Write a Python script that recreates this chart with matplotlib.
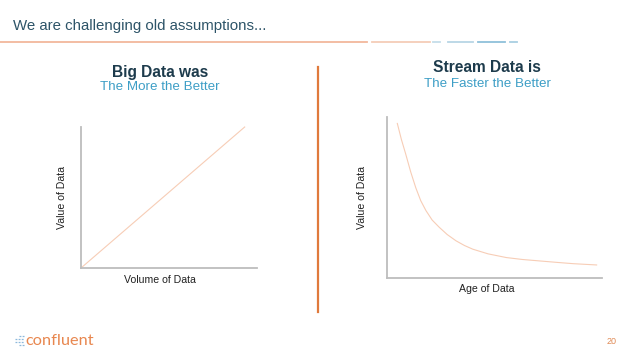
import numpy as np
import matplotlib.pyplot as plt
from matplotlib.lines import Line2D

plt.rcParams['font.family'] = ['Liberation Sans', 'DejaVu Sans']

# data (arbitrary units 0..10)
volume = [0.0, 9.3]
volume_value = [0.0, 10.0]

age = [0.48, 0.67, 0.87, 1.10, 1.34, 1.57, 1.81, 2.10, 2.43, 2.80, 3.21,
       3.60, 3.99, 4.70, 5.55, 6.30, 7.10, 7.90, 8.66, 9.20, 9.75]
age_value = [9.6, 8.6, 7.7, 6.6, 5.6, 4.8, 4.19, 3.6, 3.15, 2.7, 2.31,
             2.02, 1.79, 1.5, 1.27, 1.15, 1.06, 0.97, 0.89, 0.85, 0.81]

header = "We are challenging old assumptions..."
left_title, left_sub = "Big Data was", "The More the Better"
right_title, right_sub = "Stream Data is", "The Faster the Better"

W, H = 638, 359
fig = plt.figure(figsize=(W / 100, H / 100), dpi=100)
fig.patch.set_facecolor('white')

def fx(px):
    return px / W

def fy(py):
    return 1 - py / H

line_col = '#f7cdb6'
spine_col = '#bdbdbd'

def style_axes(ax):
    for s in ['top', 'right']:
        ax.spines[s].set_visible(False)
    for s in ['left', 'bottom']:
        ax.spines[s].set_color(spine_col)
        ax.spines[s].set_linewidth(1.3)
    ax.set_xticks([])
    ax.set_yticks([])
    ax.set_xlim(0, 10)
    ax.set_ylim(0, 10)
    ax.set_facecolor('none')

# left chart
ax1 = fig.add_axes([fx(81), fy(268), fx(257) - fx(81), fy(127) - fy(268)])
style_axes(ax1)
ax1.plot(volume, volume_value, color=line_col, lw=0.8, clip_on=False)

# right chart
ax2 = fig.add_axes([fx(387), fy(278), fx(602) - fx(387), fy(117) - fy(278)])
style_axes(ax2)
ax2.plot(age, age_value, color=line_col, lw=0.8)

# header
fig.text(fx(13), fy(26), header, fontsize=10.8, color='#2d5468',
         ha='left', va='center')
for x0, x1, c in [(0, 367, '#f2b89c'), (372, 430, '#f5cdb8'),
                  (433, 440, '#c5dde9'), (448, 473, '#b7d5e5'),
                  (478, 505, '#8fc0da'), (510, 517, '#a9cfe2')]:
    fig.add_artist(Line2D([fx(x0), fx(x1)], [fy(42), fy(42)],
                          color=c, lw=1.3, transform=fig.transFigure))

# titles
fig.text(fx(160), fy(72), left_title, fontsize=11.2, fontweight='bold',
         color='#1d3b4c', ha='center', va='center')
fig.text(fx(160), fy(87), left_sub, fontsize=9.6, color='#3d9ec6',
         ha='center', va='center')
fig.text(fx(487), fy(68), right_title, fontsize=11.2, fontweight='bold',
         color='#1d3b4c', ha='center', va='center')
fig.text(fx(487), fy(84), right_sub, fontsize=9.6, color='#3d9ec6',
         ha='center', va='center')

# axis labels
fig.text(fx(62), fy(197), "Value of Data", fontsize=7.6, color='#222222',
         rotation=90, ha='center', va='center')
fig.text(fx(160), fy(280), "Volume of Data", fontsize=7.6, color='#222222',
         ha='center', va='center')
fig.text(fx(362), fy(197), "Value of Data", fontsize=7.6, color='#222222',
         rotation=90, ha='center', va='center')
fig.text(fx(487), fy(289), "Age of Data", fontsize=7.6, color='#222222',
         ha='center', va='center')

# divider
fig.add_artist(Line2D([fx(318), fx(318)], [fy(67), fy(312)],
                      color='#e07a3c', lw=1.6, transform=fig.transFigure))

# footer logo and page number
for dy, x0, x1 in [(-5, 19, 24), (-2, 15, 24), (1, 15, 24), (4, 19, 24)]:
    fig.add_artist(Line2D([fx(x0), fx(x1)], [fy(341 + dy), fy(341 + dy)],
                          color='#8cb8dc', lw=0.9, ls=(0, (1.5, 1)),
                          transform=fig.transFigure))
fig.text(fx(25), fy(341), "confluent", fontsize=11.8, color='#e8874f',
         family=['Lato', 'DejaVu Sans'], ha='left', va='center')
fig.text(fx(612), fy(342), "20", fontsize=6.5, color='#e08a55',
         ha='center', va='center')

fig.savefig('out.png', dpi=100, facecolor='white')
